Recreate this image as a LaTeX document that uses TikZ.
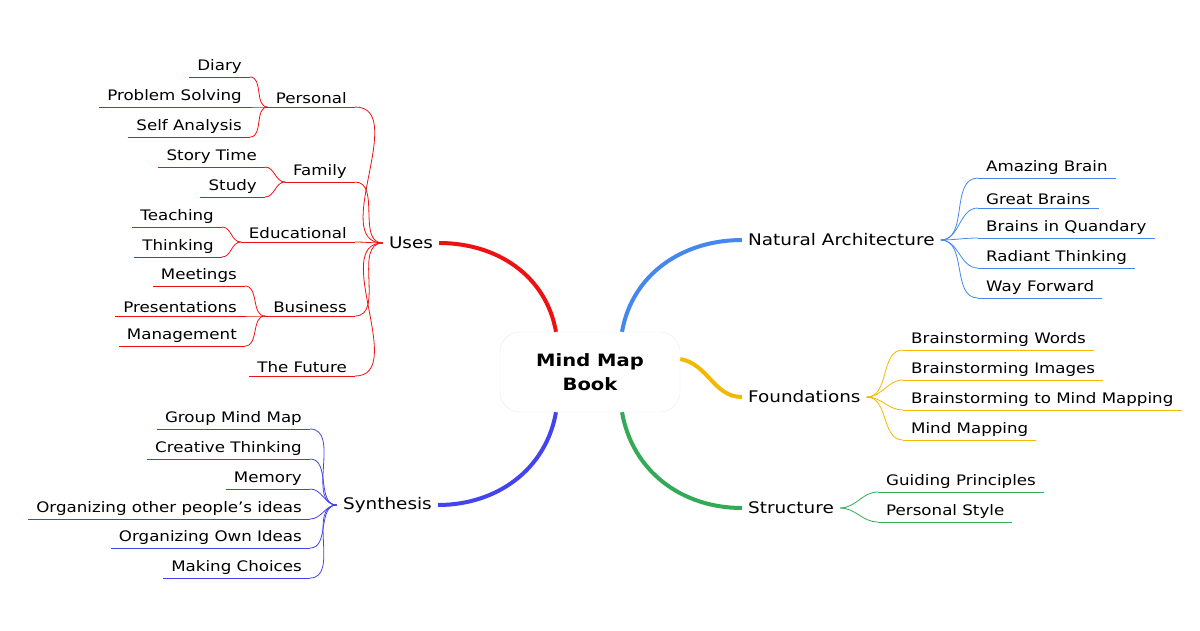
\documentclass[tikz,border=0pt]{standalone}
\usepackage{fontspec}
\setmainfont[FakeStretch=1.15]{DejaVu Sans}
\usetikzlibrary{positioning}
\definecolor{cuses}{HTML}{EE1111}
\definecolor{cnat}{HTML}{4488EE}
\definecolor{cfound}{HTML}{F5B800}
\definecolor{cstruct}{HTML}{33AA55}
\definecolor{csyn}{HTML}{4444EE}
\begin{document}
\begin{tikzpicture}[
	x=1pt, y=-1pt,
	main/.style = {font=\fontsize{16}{19}\selectfont, inner sep=6pt},
	leaf/.style = {font=\fontsize{14.5}{17}\selectfont, inner xsep=8pt, inner ysep=3pt},
	thick branch/.style = {draw=#1, line width=4pt},
	thin branch/.style = {draw=#1, line width=0.8pt}
	]
	\useasboundingbox (0,0) rectangle (1200,630);
	% centre
	\node (ctr) [draw=black!8, fill=white, rounded corners=20pt,
		minimum width=180pt, minimum height=80pt, align=center,
		font=\fontsize{17}{24}\selectfont\bfseries] at (590,372) {Mind Map\\Book};
	% main topics
	\node (uses) [main] at (411,243) {Uses};
	\node (nat) [main, anchor=west] at (742,240) {Natural Architecture};
	\node (found) [main, anchor=west] at (742,397) {Foundations};
	\node (struct) [main, anchor=west] at (742,508) {Structure};
	\node (syn) [main, anchor=east] at (438,505) {Synthesis};
	%
	\draw[thick branch=cuses] ([xshift=-34]ctr.north) to[out=100,in=0] (uses.east);
	\draw[thick branch=cnat] ([xshift=32]ctr.north) to[out=80,in=180] (nat.west);
	\draw[thick branch=cfound] ([yshift=13]ctr.east) to[out=-10,in=180] (found.west);
	\draw[thick branch=cstruct] ([xshift=32]ctr.south) to[out=-80,in=180] (struct.west);
	\draw[thick branch=csyn] ([xshift=-34]ctr.south) to[out=-100,in=0] (syn.east);
	%
	% Uses
	\foreach \name/\txt/\yy in {per/Personal/107, fam/Family/182, edu/Educational/242,
		bus/Business/316, fut/The Future/376} {
		\node (\name) [leaf, anchor=south east] at (355,\yy) {\txt};
		\draw[thin branch=cuses] (\name.south west) -- (\name.south east);
		\draw[thin branch=cuses] (uses.west) to[out=180,in=0] (\name.south east);
	}
	\foreach \name/\up/\txt/\yy/\xx in {dia/per/Diary/77/250, pro/per/Problem Solving/107/250,
		sel/per/Self Analysis/137/250, sto/fam/Story Time/167/265, stu/fam/Study/197/265,
		tea/edu/Teaching/227/222, thi/edu/Thinking/257/222, mee/bus/Meetings/286/245,
		pre/bus/Presentations/316/245, man/bus/Management/346/245} {
		\node (\name) [leaf, anchor=south east] at (\xx,\yy) {\txt};
		\draw[thin branch=cuses] (\name.south west) -- (\name.south east);
		\draw[thin branch=cuses] (\up.south west) to[out=180,in=0] (\name.south east);
	}
	% Natural Architecture
	\foreach \name/\txt/\yy in {amb/Amazing Brain/178, grb/Great Brains/208,
		brq/Brains in Quandary/238, rad/Radiant Thinking/268, way/Way Forward/298} {
		\node (\name) [leaf, anchor=south west] at (978,\yy) {\txt};
		\draw[thin branch=cnat] (\name.south west) -- (\name.south east);
		\draw[thin branch=cnat] (nat.east) to[out=0,in=180] (\name.south west);
	}
	% Foundations
	\foreach \name/\txt/\yy in {bsw/Brainstorming Words/350, bsi/Brainstorming Images/380,
		bsm/Brainstorming to Mind Mapping/410, mmp/Mind Mapping/440} {
		\node (\name) [leaf, anchor=south west] at (903,\yy) {\txt};
		\draw[thin branch=cfound] (\name.south west) -- (\name.south east);
		\draw[thin branch=cfound] (found.east) to[out=0,in=180] (\name.south west);
	}
	% Structure
	\foreach \name/\txt/\yy in {gui/Guiding Principles/492, pst/Personal Style/522} {
		\node (\name) [leaf, anchor=south west] at (878,\yy) {\txt};
		\draw[thin branch=cstruct] (\name.south west) -- (\name.south east);
		\draw[thin branch=cstruct] (struct.east) to[out=0,in=180] (\name.south west);
	}
	% Synthesis
	\foreach \name/\txt/\yy in {gmm/Group Mind Map/429, cre/Creative Thinking/459,
		mem/Memory/489, oop/Organizing other people's ideas/519,
		ooi/Organizing Own Ideas/548, mch/Making Choices/578} {
		\node (\name) [leaf, anchor=south east] at (310,\yy) {\txt};
		\draw[thin branch=csyn] (\name.south west) -- (\name.south east);
		\draw[thin branch=csyn] (syn.west) to[out=180,in=0] (\name.south east);
	}
\end{tikzpicture}
\end{document}
